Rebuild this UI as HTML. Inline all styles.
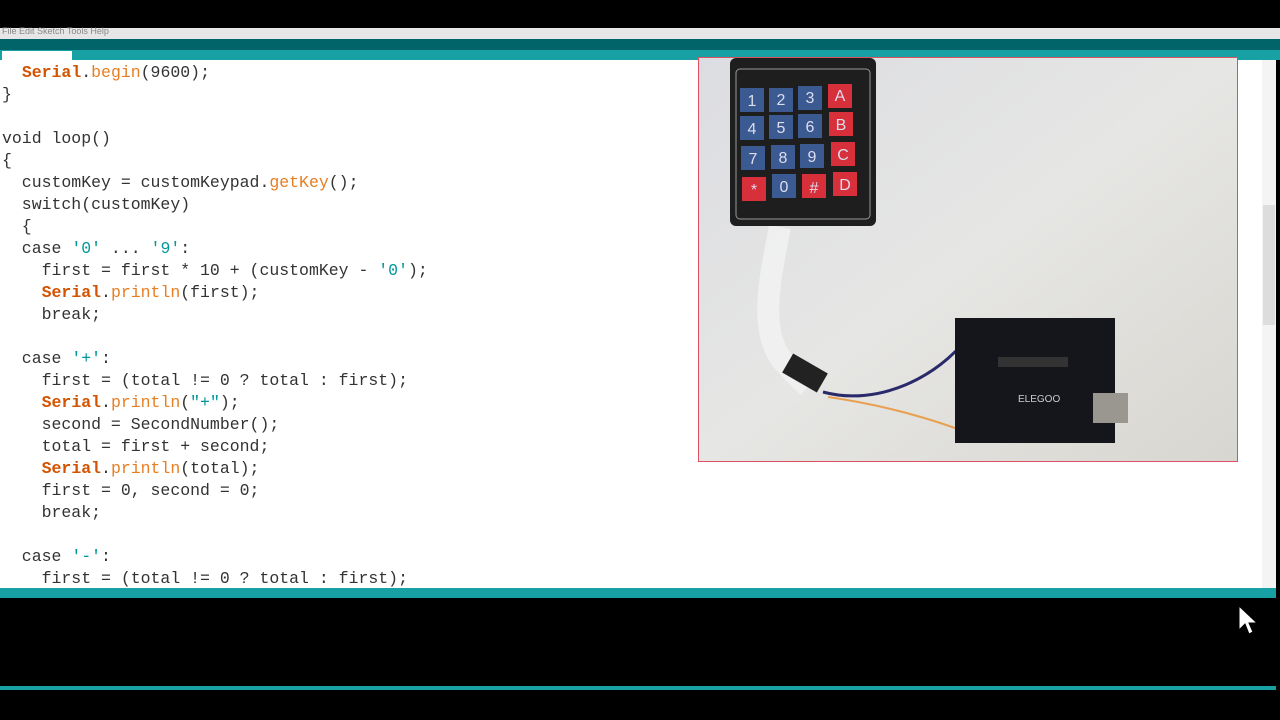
<!DOCTYPE html>
<html><head><meta charset="utf-8"><style>
body{margin:0;width:1280px;height:720px;background:#000;position:relative;overflow:hidden;font-family:"Liberation Sans",sans-serif}
.abs{position:absolute}
pre{margin:0;font-family:"Liberation Mono",monospace;font-size:16.5px;line-height:22px;color:#333;position:absolute;left:2px;top:62px}
.s{color:#d35400;font-weight:bold}.f{color:#e67e22}.q{color:#00979c}
</style></head><body>
<div class="abs" style="left:0;top:28px;width:1280px;height:11px;background:#e6e6e6"></div>
<div class="abs" style="left:2px;top:26px;font-size:9px;color:#888">File Edit Sketch Tools Help</div>
<div class="abs" style="left:0;top:39px;width:1280px;height:11px;background:#006468"></div>
<div class="abs" style="left:0;top:50px;width:1280px;height:10px;background:#17a1a5"></div>
<div class="abs" style="left:2px;top:51px;width:70px;height:9px;background:#fff"></div>
<div class="abs" style="left:0;top:60px;width:1276px;height:528px;background:#fff"></div>
<div class="abs" style="left:1262px;top:60px;width:14px;height:528px;background:#f4f4f4"></div>
<div class="abs" style="left:1263px;top:205px;width:12px;height:120px;background:#ddd"></div>
<pre>  <span class="s">Serial</span>.<span class="f">begin</span>(9600);
}

void loop()
{
  customKey = customKeypad.<span class="f">getKey</span>();
  switch(customKey)
  {
  case <span class="q">'0'</span> ... <span class="q">'9'</span>:
    first = first * 10 + (customKey - <span class="q">'0'</span>);
    <span class="s">Serial</span>.<span class="f">println</span>(first);
    break;

  case <span class="q">'+'</span>:
    first = (total != 0 ? total : first);
    <span class="s">Serial</span>.<span class="f">println</span>(<span class="q">"+"</span>);
    second = SecondNumber();
    total = first + second;
    <span class="s">Serial</span>.<span class="f">println</span>(total);
    first = 0, second = 0;
    break;

  case <span class="q">'-'</span>:
    first = (total != 0 ? total : first);</pre>
<svg class="abs" style="left:698px;top:57px" width="540" height="405" viewBox="0 0 540 405">
<defs><linearGradient id="g" x1="0" y1="0" x2="1" y2="1"><stop offset="0" stop-color="#dcdde2"/><stop offset="0.5" stop-color="#e6e6e4"/><stop offset="1" stop-color="#d8d6d0"/></linearGradient></defs>
<rect x="0.5" y="0.5" width="539" height="404" fill="url(#g)" stroke="#e05060"/>
<path d="M82 170 C70 230 60 280 90 310 L110 330" stroke="#f2f2f2" stroke-width="22" fill="none" opacity="0.8"/>
<rect x="87" y="305" width="40" height="22" fill="#222" transform="rotate(30 107 316)"/>
<path d="M125 335 C180 350 240 320 270 280" stroke="#2a2a6a" stroke-width="3" fill="none"/>
<path d="M130 340 C200 350 260 370 290 385" stroke="#e8a050" stroke-width="2" fill="none"/>
<rect x="32" y="1" width="146" height="168" rx="6" fill="#1e1e1e"/>
<rect x="38" y="12" width="134" height="150" rx="4" fill="none" stroke="#999" stroke-width="1"/>
<g font-size="16" font-family="Liberation Sans" text-anchor="middle">
<g fill="#3c5a92"><rect x="42" y="31" width="24" height="24"/><rect x="71" y="31" width="24" height="24"/><rect x="100" y="29" width="24" height="24"/>
<rect x="42" y="59" width="24" height="24"/><rect x="71" y="58" width="24" height="24"/><rect x="100" y="57" width="24" height="24"/>
<rect x="43" y="89" width="24" height="24"/><rect x="73" y="88" width="24" height="24"/><rect x="102" y="87" width="24" height="24"/>
<rect x="74" y="117" width="24" height="24"/></g>
<g fill="#d8303a"><rect x="130" y="27" width="24" height="24"/><rect x="131" y="55" width="24" height="24"/><rect x="133" y="85" width="24" height="24"/><rect x="135" y="115" width="24" height="24"/><rect x="44" y="120" width="24" height="24"/><rect x="104" y="117" width="24" height="24"/></g>
<g fill="#dde">
<text x="54" y="49">1</text><text x="83" y="48">2</text><text x="112" y="46">3</text><text x="142" y="44">A</text>
<text x="54" y="77">4</text><text x="83" y="76">5</text><text x="112" y="75">6</text><text x="143" y="73">B</text>
<text x="55" y="107">7</text><text x="85" y="106">8</text><text x="114" y="105">9</text><text x="145" y="103">C</text>
<text x="56" y="138">*</text><text x="86" y="135">0</text><text x="116" y="136">#</text><text x="147" y="133">D</text></g></g>
<rect x="257" y="261" width="160" height="125" fill="#15151c"/>
<rect x="300" y="300" width="70" height="10" fill="#333"/>
<rect x="395" y="336" width="35" height="30" fill="#9a9690"/>
<text x="320" y="345" font-size="10" fill="#ccc" font-family="Liberation Sans">ELEGOO</text>
</svg>
<div class="abs" style="left:0;top:588px;width:1276px;height:10px;background:#17a1a5"></div>
<div class="abs" style="left:0;top:686px;width:1276px;height:4px;background:#17a1a5"></div>
<svg class="abs" style="left:1238px;top:605px" width="24" height="32"><path d="M1 1 L1 25 L7 19 L11 29 L15 27 L11 18 L19 18 Z" fill="#fff" stroke="#000"/></svg>
</body></html>
